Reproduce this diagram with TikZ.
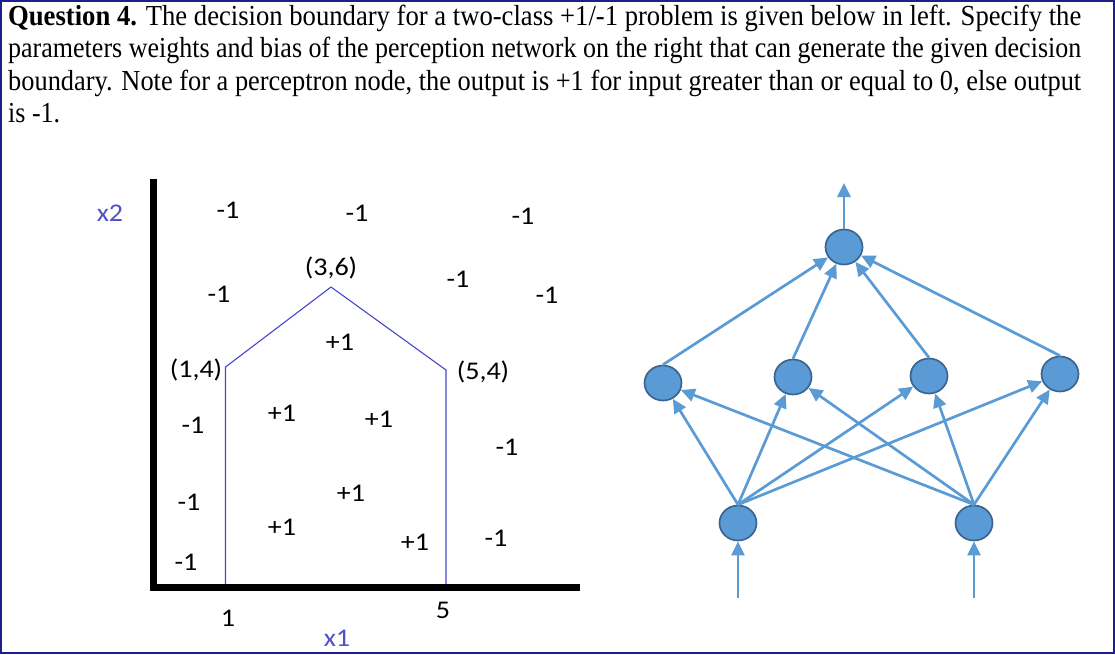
\documentclass[tikz,border=0pt]{standalone}
\usepackage{fontspec}
\setmainfont{Liberation Serif}
\newfontfamily\labfont{Carlito}
\usetikzlibrary{arrows.meta,shapes.geometric}
\definecolor{frame}{RGB}{30,30,140}
\definecolor{nfill}{RGB}{91,155,213}
\definecolor{nedge}{RGB}{60,100,145}
\definecolor{bnd}{RGB}{70,70,200}
\definecolor{axlab}{RGB}{80,80,200}
\newcommand{\qline}[2]{\resizebox{#1}{\height}{\fontsize{29pt}{32pt}\selectfont #2}}
\newcommand{\plab}[1]{\scalebox{1.1}[1]{#1}}
\begin{document}
\begin{tikzpicture}[x=1pt,y=-1pt,
  qtext/.style={anchor=base west,inner sep=0pt},
  lbl/.style={inner sep=0pt,font=\labfont\fontsize{25.5pt}{27pt}\selectfont},
  axl/.style={lbl,text=axlab},
  neuron/.style={ellipse,draw=nedge,fill=nfill,line width=1.7pt,minimum width=37pt,minimum height=35pt,inner sep=0pt},
  conn/.style={draw=nfill,line width=2.7pt,-{Triangle[length=14pt,width=13pt,fill=nfill]}},
  boundary/.style={draw=bnd,line width=1.1pt},
  axis/.style={line width=7pt,black}]
\useasboundingbox (0,0) rectangle (1115,654);
\draw[frame,line width=2pt] (1,1) rectangle (1114,653);

% question text
\node[qtext] (q1) at (8,25) {\qline{1073pt}{\textbf{Question 4.} The decision boundary for a two-class +1/-1 problem is given below in left. Specify the}};
\node[qtext] (q2) at (8,57.5) {\qline{1073pt}{parameters weights and bias of the perception network on the right that can generate the given decision}};
\node[qtext] (q3) at (8,90) {\qline{1073pt}{boundary. Note for a perceptron node, the output is +1 for input greater than or equal to 0, else output}};
\node[qtext] (q4) at (8,122.5) {\qline{52pt}{is -1.}};

% decision boundary
\coordinate (b0) at (225.5,590);
\coordinate (b1) at (225.5,367);
\coordinate (b2) at (331,287);
\coordinate (b3) at (446,370);
\coordinate (b4) at (446,590);
\draw[boundary] (b0) -- (b1) -- (b2) -- (b3) -- (b4);

% axes
\coordinate (ytop) at (153.5,179);
\coordinate (orig) at (153.5,587);
\coordinate (xend) at (580,587);
\draw[axis] (ytop) -- (orig) -- (xend);

% labels
\node[axl] (lx2) at (110,213) {\plab{x2}};
\node[axl] (lx1) at (337,638) {\plab{x1}};
\node[lbl] (t1) at (228,618) {\plab{1}};
\node[lbl] (t5) at (443,610) {\plab{5}};
\node[lbl] (p14) at (196,370) {\plab{(1,4)}};
\node[lbl] (p36) at (331,268) {\plab{(3,6)}};
\node[lbl] (p54) at (483,372) {\plab{(5,4)}};

\node[lbl] (m1) at (228,210) {\plab{-1}};
\node[lbl] (m2) at (357,213) {\plab{-1}};
\node[lbl] (m3) at (523,216) {\plab{-1}};
\node[lbl] (m4) at (219,294) {\plab{-1}};
\node[lbl] (m5) at (458,279) {\plab{-1}};
\node[lbl] (m6) at (547,295) {\plab{-1}};
\node[lbl] (m7) at (193,425) {\plab{-1}};
\node[lbl] (m8) at (507,447) {\plab{-1}};
\node[lbl] (m9) at (189,502) {\plab{-1}};
\node[lbl] (m10) at (496,538) {\plab{-1}};
\node[lbl] (m11) at (186,562) {\plab{-1}};

\node[lbl] (a1) at (340,342) {\plab{+1}};
\node[lbl] (a2) at (282,413) {\plab{+1}};
\node[lbl] (a3) at (379,419) {\plab{+1}};
\node[lbl] (a4) at (351,493) {\plab{+1}};
\node[lbl] (a5) at (282,527) {\plab{+1}};
\node[lbl] (a6) at (415,542) {\plab{+1}};

% network
\node[neuron] (out) at (844,247) {};
\node[neuron] (h1) at (663,383) {};
\node[neuron] (h2) at (793,377) {};
\node[neuron] (h3) at (929,376) {};
\node[neuron] (h4) at (1060,374) {};
\node[neuron] (in1) at (738,523) {};
\node[neuron] (in2) at (974,523) {};
\coordinate (oend) at (844,183);
\coordinate (s1) at (738,598);
\coordinate (s2) at (974,598);

\draw[conn] (out.north) -- (oend);
\foreach \h in {h1,h2,h3,h4} {
  \draw[conn] (\h.north) -- (out);
  \draw[conn] (in1.north) -- (\h);
  \draw[conn] (in2.north) -- (\h);
}
\draw[conn] (s1) -- (in1);
\draw[conn] (s2) -- (in2);
\end{tikzpicture}
\end{document}
